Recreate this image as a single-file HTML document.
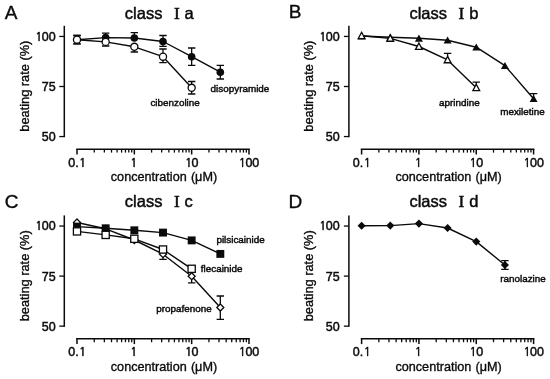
<!DOCTYPE html>
<html><head><meta charset="utf-8"><title>figure</title>
<style>
html,body{margin:0;padding:0;background:#fff;}
svg{display:block;filter:blur(0.3px)}
text{font-family:"Liberation Sans",sans-serif;fill:#0a0a0a;stroke:#0a0a0a;stroke-width:0.35}
.tk{font-size:12.5px;stroke-width:0.45}
.one{font-family:"NanumGothic","Liberation Sans",sans-serif;font-size:11.57px;stroke-width:0.55}
.axx{font-size:12.65px}
.axl{font-size:12.8px}
.ttl{font-size:16.5px;stroke-width:0.45}
.rom{font-family:"Liberation Serif",serif;font-size:17.3px;stroke-width:0.5}
.let{font-size:19px}
.lab{font-size:9.9px;stroke-width:0.45}
.ax{stroke:#0a0a0a;stroke-width:1.5;fill:none;stroke-linecap:butt}
.tkl{stroke:#0a0a0a;stroke-width:1.3;fill:none}
.mn{stroke:#0a0a0a;stroke-width:1.3;fill:none}
.ln{stroke:#0a0a0a;stroke-width:1.4;fill:none;stroke-linejoin:round}
.eb{stroke:#0a0a0a;stroke-width:1.3;fill:none}
.mk{stroke:#0a0a0a;stroke-width:1.3}
</style></head><body>
<svg width="550" height="379" viewBox="0 0 550 379">
<rect width="550" height="379" fill="#fff"/>
<g transform="translate(0,0)">
<path d="M64.3 25.8V137.2" class="ax"/>
<path d="M59.3 36.45H64.3" class="tkl"/>
<text y="40.90" class="tk"><tspan x="35.14" class="one">1</tspan><tspan x="41.70">00</tspan></text>
<path d="M59.3 86.50H64.3" class="tkl"/>
<text y="90.95" class="tk"><tspan x="41.70">75</tspan></text>
<path d="M59.3 136.55H64.3" class="tkl"/>
<text y="141.00" class="tk"><tspan x="41.70">50</tspan></text>
<path d="M76.2 149.15H249.8" class="ax"/>
<path d="M77.00 149.15V154.5" class="ax"/>
<text y="166.80" class="tk"><tspan x="68.21">0.</tspan><tspan x="79.04" class="one">1</tspan></text>
<path d="M94.26 149.15V152.6" class="mn"/>
<path d="M104.35 149.15V152.6" class="mn"/>
<path d="M111.52 149.15V152.6" class="mn"/>
<path d="M117.07 149.15V152.6" class="mn"/>
<path d="M121.61 149.15V152.6" class="mn"/>
<path d="M125.45 149.15V152.6" class="mn"/>
<path d="M128.77 149.15V152.6" class="mn"/>
<path d="M131.71 149.15V152.6" class="mn"/>
<path d="M134.33 149.15V154.5" class="ax"/>
<text y="166.80" class="tk"><tspan x="130.25" class="one">1</tspan></text>
<path d="M151.59 149.15V152.6" class="mn"/>
<path d="M161.68 149.15V152.6" class="mn"/>
<path d="M168.85 149.15V152.6" class="mn"/>
<path d="M174.40 149.15V152.6" class="mn"/>
<path d="M178.94 149.15V152.6" class="mn"/>
<path d="M182.78 149.15V152.6" class="mn"/>
<path d="M186.10 149.15V152.6" class="mn"/>
<path d="M189.04 149.15V152.6" class="mn"/>
<path d="M191.66 149.15V154.5" class="ax"/>
<text y="166.80" class="tk"><tspan x="185.01" class="one">1</tspan><tspan x="191.56">0</tspan></text>
<path d="M208.92 149.15V152.6" class="mn"/>
<path d="M219.01 149.15V152.6" class="mn"/>
<path d="M226.18 149.15V152.6" class="mn"/>
<path d="M231.73 149.15V152.6" class="mn"/>
<path d="M236.27 149.15V152.6" class="mn"/>
<path d="M240.11 149.15V152.6" class="mn"/>
<path d="M243.43 149.15V152.6" class="mn"/>
<path d="M246.37 149.15V152.6" class="mn"/>
<path d="M248.99 149.15V154.5" class="ax"/>
<text y="166.80" class="tk"><tspan x="238.86" class="one">1</tspan><tspan x="245.41">00</tspan></text>
<text y="181.1" class="axx"><tspan x="110.8">concentration </tspan><tspan x="190.9">(μM)</tspan></text>
<text transform="translate(28.7,86.2) rotate(-90)" class="axl" text-anchor="middle">beating rate (%)</text>
<text x="4.7" y="18.9" class="let">A</text>
<text x="124.8" y="18.5" class="ttl">class</text>
<text x="176.8" y="18.5" class="rom" text-anchor="middle">I</text>
<text x="184.6" y="18.5" class="ttl">a</text>
<path d="M77.00 39.70L105.66 37.60L134.33 38.00L163.00 41.50L191.66 56.70L220.32 72.20" class="ln"/>
<path d="M77.00 35.50V43.90M73.30 35.50H80.70M73.30 43.90H80.70" class="eb"/>
<path d="M105.66 33.20V37.60M101.96 33.20H109.36" class="eb"/>
<path d="M134.33 32.60V38.00M130.63 32.60H138.03" class="eb"/>
<path d="M163.00 35.50V46.40M159.30 35.50H166.69M159.30 46.40H166.69" class="eb"/>
<path d="M191.66 48.00V65.40M187.96 48.00H195.36M187.96 65.40H195.36" class="eb"/>
<path d="M220.32 65.40V79.00M216.62 65.40H224.02M216.62 79.00H224.02" class="eb"/>
<circle cx="77.00" cy="39.70" r="3.8" fill="#0a0a0a"/>
<circle cx="105.66" cy="37.60" r="3.8" fill="#0a0a0a"/>
<circle cx="134.33" cy="38.00" r="3.8" fill="#0a0a0a"/>
<circle cx="163.00" cy="41.50" r="3.8" fill="#0a0a0a"/>
<circle cx="191.66" cy="56.70" r="3.8" fill="#0a0a0a"/>
<circle cx="220.32" cy="72.20" r="3.8" fill="#0a0a0a"/>
<path d="M77.00 39.70L105.66 41.90L134.33 46.80L163.00 56.70L191.66 87.80" class="ln"/>
<path d="M77.00 35.50V43.90M73.30 35.50H80.70M73.30 43.90H80.70" class="eb"/>
<path d="M105.66 41.90V46.00M101.96 46.00H109.36" class="eb"/>
<path d="M134.33 46.80V52.00M130.63 52.00H138.03" class="eb"/>
<path d="M163.00 49.00V62.70M159.30 49.00H166.69M159.30 62.70H166.69" class="eb"/>
<path d="M191.66 81.50V94.00M187.96 81.50H195.36M187.96 94.00H195.36" class="eb"/>
<circle cx="77.00" cy="39.70" r="3.55" fill="#fff" class="mk"/>
<circle cx="105.66" cy="41.90" r="3.55" fill="#fff" class="mk"/>
<circle cx="134.33" cy="46.80" r="3.55" fill="#fff" class="mk"/>
<circle cx="163.00" cy="56.70" r="3.55" fill="#fff" class="mk"/>
<circle cx="191.66" cy="87.80" r="3.55" fill="#fff" class="mk"/>
<text x="210.6" y="92.3" class="lab" text-anchor="start">disopyramide</text>
<text x="150.4" y="106.4" class="lab" text-anchor="start">cibenzoline</text>
</g>
<g transform="translate(284.6,0)">
<path d="M64.3 25.8V137.2" class="ax"/>
<path d="M59.3 36.45H64.3" class="tkl"/>
<text y="40.90" class="tk"><tspan x="34.54" class="one">1</tspan><tspan x="41.10">00</tspan></text>
<path d="M59.3 86.50H64.3" class="tkl"/>
<text y="90.95" class="tk"><tspan x="41.10">75</tspan></text>
<path d="M59.3 136.55H64.3" class="tkl"/>
<text y="141.00" class="tk"><tspan x="41.10">50</tspan></text>
<path d="M76.2 149.15H249.8" class="ax"/>
<path d="M77.00 149.15V154.5" class="ax"/>
<text y="166.80" class="tk"><tspan x="68.21">0.</tspan><tspan x="79.04" class="one">1</tspan></text>
<path d="M94.26 149.15V152.6" class="mn"/>
<path d="M104.35 149.15V152.6" class="mn"/>
<path d="M111.52 149.15V152.6" class="mn"/>
<path d="M117.07 149.15V152.6" class="mn"/>
<path d="M121.61 149.15V152.6" class="mn"/>
<path d="M125.45 149.15V152.6" class="mn"/>
<path d="M128.77 149.15V152.6" class="mn"/>
<path d="M131.71 149.15V152.6" class="mn"/>
<path d="M134.33 149.15V154.5" class="ax"/>
<text y="166.80" class="tk"><tspan x="130.25" class="one">1</tspan></text>
<path d="M151.59 149.15V152.6" class="mn"/>
<path d="M161.68 149.15V152.6" class="mn"/>
<path d="M168.85 149.15V152.6" class="mn"/>
<path d="M174.40 149.15V152.6" class="mn"/>
<path d="M178.94 149.15V152.6" class="mn"/>
<path d="M182.78 149.15V152.6" class="mn"/>
<path d="M186.10 149.15V152.6" class="mn"/>
<path d="M189.04 149.15V152.6" class="mn"/>
<path d="M191.66 149.15V154.5" class="ax"/>
<text y="166.80" class="tk"><tspan x="185.01" class="one">1</tspan><tspan x="191.56">0</tspan></text>
<path d="M208.92 149.15V152.6" class="mn"/>
<path d="M219.01 149.15V152.6" class="mn"/>
<path d="M226.18 149.15V152.6" class="mn"/>
<path d="M231.73 149.15V152.6" class="mn"/>
<path d="M236.27 149.15V152.6" class="mn"/>
<path d="M240.11 149.15V152.6" class="mn"/>
<path d="M243.43 149.15V152.6" class="mn"/>
<path d="M246.37 149.15V152.6" class="mn"/>
<path d="M248.99 149.15V154.5" class="ax"/>
<text y="166.80" class="tk"><tspan x="238.86" class="one">1</tspan><tspan x="245.41">00</tspan></text>
<text y="181.1" class="axx"><tspan x="110.8">concentration </tspan><tspan x="190.9">(μM)</tspan></text>
<text transform="translate(28.7,86.2) rotate(-90)" class="axl" text-anchor="middle">beating rate (%)</text>
<text x="4.2" y="18.099999999999998" class="let">B</text>
<text x="124.8" y="18.5" class="ttl">class</text>
<text x="176.8" y="18.5" class="rom" text-anchor="middle">I</text>
<text x="184.6" y="18.5" class="ttl">b</text>
<path d="M77.00 36.00L105.66 37.20L134.33 38.30L163.00 40.20L191.66 47.20L220.32 65.60L248.99 98.70" class="ln"/>






<path d="M248.99 93.60V98.70M245.29 93.60H252.69" class="eb"/>
<path d="M77.00 32.30L81.00 39.40L73.00 39.40Z" fill="#0a0a0a"/>
<path d="M105.66 33.50L109.66 40.60L101.66 40.60Z" fill="#0a0a0a"/>
<path d="M134.33 34.60L138.33 41.70L130.33 41.70Z" fill="#0a0a0a"/>
<path d="M163.00 36.50L167.00 43.60L159.00 43.60Z" fill="#0a0a0a"/>
<path d="M191.66 43.50L195.66 50.60L187.66 50.60Z" fill="#0a0a0a"/>
<path d="M220.32 61.90L224.32 69.00L216.32 69.00Z" fill="#0a0a0a"/>
<path d="M248.99 95.00L252.99 102.10L244.99 102.10Z" fill="#0a0a0a"/>
<path d="M77.00 35.80L105.66 38.40L134.33 46.50L163.00 59.90L191.66 87.80" class="ln"/>



<path d="M163.00 53.40V59.90M159.30 53.40H166.69" class="eb"/>
<path d="M191.66 82.20V87.80M187.96 82.20H195.36" class="eb"/>
<path d="M77.00 32.30L80.40 38.65L73.60 38.65Z" fill="#fff" class="mk"/>
<path d="M105.66 34.90L109.06 41.25L102.26 41.25Z" fill="#fff" class="mk"/>
<path d="M134.33 43.00L137.73 49.35L130.93 49.35Z" fill="#fff" class="mk"/>
<path d="M163.00 56.40L166.40 62.75L159.59 62.75Z" fill="#fff" class="mk"/>
<path d="M191.66 84.30L195.06 90.65L188.26 90.65Z" fill="#fff" class="mk"/>
<text x="154.5" y="106.2" class="lab" text-anchor="start">aprindine</text>
<text x="215.6" y="114.9" class="lab" text-anchor="start">mexiletine</text>
</g>
<g transform="translate(0,189.6)">
<path d="M64.3 25.8V137.2" class="ax"/>
<path d="M59.3 36.45H64.3" class="tkl"/>
<text y="40.90" class="tk"><tspan x="35.14" class="one">1</tspan><tspan x="41.70">00</tspan></text>
<path d="M59.3 86.50H64.3" class="tkl"/>
<text y="90.95" class="tk"><tspan x="41.70">75</tspan></text>
<path d="M59.3 136.55H64.3" class="tkl"/>
<text y="141.00" class="tk"><tspan x="41.70">50</tspan></text>
<path d="M76.2 149.15H249.8" class="ax"/>
<path d="M77.00 149.15V154.5" class="ax"/>
<text y="166.80" class="tk"><tspan x="68.21">0.</tspan><tspan x="79.04" class="one">1</tspan></text>
<path d="M94.26 149.15V152.6" class="mn"/>
<path d="M104.35 149.15V152.6" class="mn"/>
<path d="M111.52 149.15V152.6" class="mn"/>
<path d="M117.07 149.15V152.6" class="mn"/>
<path d="M121.61 149.15V152.6" class="mn"/>
<path d="M125.45 149.15V152.6" class="mn"/>
<path d="M128.77 149.15V152.6" class="mn"/>
<path d="M131.71 149.15V152.6" class="mn"/>
<path d="M134.33 149.15V154.5" class="ax"/>
<text y="166.80" class="tk"><tspan x="130.25" class="one">1</tspan></text>
<path d="M151.59 149.15V152.6" class="mn"/>
<path d="M161.68 149.15V152.6" class="mn"/>
<path d="M168.85 149.15V152.6" class="mn"/>
<path d="M174.40 149.15V152.6" class="mn"/>
<path d="M178.94 149.15V152.6" class="mn"/>
<path d="M182.78 149.15V152.6" class="mn"/>
<path d="M186.10 149.15V152.6" class="mn"/>
<path d="M189.04 149.15V152.6" class="mn"/>
<path d="M191.66 149.15V154.5" class="ax"/>
<text y="166.80" class="tk"><tspan x="185.01" class="one">1</tspan><tspan x="191.56">0</tspan></text>
<path d="M208.92 149.15V152.6" class="mn"/>
<path d="M219.01 149.15V152.6" class="mn"/>
<path d="M226.18 149.15V152.6" class="mn"/>
<path d="M231.73 149.15V152.6" class="mn"/>
<path d="M236.27 149.15V152.6" class="mn"/>
<path d="M240.11 149.15V152.6" class="mn"/>
<path d="M243.43 149.15V152.6" class="mn"/>
<path d="M246.37 149.15V152.6" class="mn"/>
<path d="M248.99 149.15V154.5" class="ax"/>
<text y="166.80" class="tk"><tspan x="238.86" class="one">1</tspan><tspan x="245.41">00</tspan></text>
<text y="181.1" class="axx"><tspan x="110.8">concentration </tspan><tspan x="190.9">(μM)</tspan></text>
<text transform="translate(28.7,86.2) rotate(-90)" class="axl" text-anchor="middle">beating rate (%)</text>
<text x="4.7" y="18.5" class="let">C</text>
<text x="124.8" y="17.8" class="ttl">class</text>
<text x="176.8" y="17.8" class="rom" text-anchor="middle">I</text>
<text x="184.6" y="17.8" class="ttl">c</text>
<path d="M77.00 32.90L105.66 39.20L134.33 50.40L163.00 64.60L191.66 86.60L220.32 117.90" class="ln"/>



<path d="M163.00 64.60V69.80M159.30 69.80H166.69" class="eb"/>
<path d="M191.66 86.60V93.30M187.96 93.30H195.36" class="eb"/>
<path d="M220.32 106.40V129.70M216.62 106.40H224.02M216.62 129.70H224.02" class="eb"/>
<path d="M77.00 29.40L80.50 32.90L77.00 36.40L73.50 32.90Z" fill="#fff" class="mk"/>
<path d="M105.66 35.70L109.16 39.20L105.66 42.70L102.16 39.20Z" fill="#fff" class="mk"/>
<path d="M134.33 46.90L137.83 50.40L134.33 53.90L130.83 50.40Z" fill="#fff" class="mk"/>
<path d="M163.00 61.10L166.50 64.60L163.00 68.10L159.50 64.60Z" fill="#fff" class="mk"/>
<path d="M191.66 83.10L195.16 86.60L191.66 90.10L188.16 86.60Z" fill="#fff" class="mk"/>
<path d="M220.32 114.40L223.82 117.90L220.32 121.40L216.82 117.90Z" fill="#fff" class="mk"/>
<path d="M77.00 37.00L105.66 38.70L134.33 40.70L163.00 43.00L191.66 50.80L220.32 64.30" class="ln"/>






<rect x="73.05" y="33.05" width="7.9" height="7.9" fill="#0a0a0a"/>
<rect x="101.71" y="34.75" width="7.9" height="7.9" fill="#0a0a0a"/>
<rect x="130.38" y="36.75" width="7.9" height="7.9" fill="#0a0a0a"/>
<rect x="159.05" y="39.05" width="7.9" height="7.9" fill="#0a0a0a"/>
<rect x="187.71" y="46.85" width="7.9" height="7.9" fill="#0a0a0a"/>
<rect x="216.38" y="60.35" width="7.9" height="7.9" fill="#0a0a0a"/>
<path d="M77.00 41.80L105.66 45.30L134.33 49.20L163.00 59.90L191.66 79.20" class="ln"/>





<rect x="73.40" y="38.20" width="7.2" height="7.2" fill="#fff" class="mk"/>
<rect x="102.06" y="41.70" width="7.2" height="7.2" fill="#fff" class="mk"/>
<rect x="130.73" y="45.60" width="7.2" height="7.2" fill="#fff" class="mk"/>
<rect x="159.40" y="56.30" width="7.2" height="7.2" fill="#fff" class="mk"/>
<rect x="188.06" y="75.60" width="7.2" height="7.2" fill="#fff" class="mk"/>
<text x="216.4" y="53.8" class="lab" text-anchor="start">pilsicainide</text>
<text x="200.8" y="82.9" class="lab" text-anchor="start">flecainide</text>
<text x="156.2" y="122.3" class="lab" text-anchor="start">propafenone</text>
</g>
<g transform="translate(284.6,189.6)">
<path d="M64.3 25.8V137.2" class="ax"/>
<path d="M59.3 36.45H64.3" class="tkl"/>
<text y="40.90" class="tk"><tspan x="34.54" class="one">1</tspan><tspan x="41.10">00</tspan></text>
<path d="M59.3 86.50H64.3" class="tkl"/>
<text y="90.95" class="tk"><tspan x="41.10">75</tspan></text>
<path d="M59.3 136.55H64.3" class="tkl"/>
<text y="141.00" class="tk"><tspan x="41.10">50</tspan></text>
<path d="M76.2 149.15H249.8" class="ax"/>
<path d="M77.00 149.15V154.5" class="ax"/>
<text y="166.80" class="tk"><tspan x="68.21">0.</tspan><tspan x="79.04" class="one">1</tspan></text>
<path d="M94.26 149.15V152.6" class="mn"/>
<path d="M104.35 149.15V152.6" class="mn"/>
<path d="M111.52 149.15V152.6" class="mn"/>
<path d="M117.07 149.15V152.6" class="mn"/>
<path d="M121.61 149.15V152.6" class="mn"/>
<path d="M125.45 149.15V152.6" class="mn"/>
<path d="M128.77 149.15V152.6" class="mn"/>
<path d="M131.71 149.15V152.6" class="mn"/>
<path d="M134.33 149.15V154.5" class="ax"/>
<text y="166.80" class="tk"><tspan x="130.25" class="one">1</tspan></text>
<path d="M151.59 149.15V152.6" class="mn"/>
<path d="M161.68 149.15V152.6" class="mn"/>
<path d="M168.85 149.15V152.6" class="mn"/>
<path d="M174.40 149.15V152.6" class="mn"/>
<path d="M178.94 149.15V152.6" class="mn"/>
<path d="M182.78 149.15V152.6" class="mn"/>
<path d="M186.10 149.15V152.6" class="mn"/>
<path d="M189.04 149.15V152.6" class="mn"/>
<path d="M191.66 149.15V154.5" class="ax"/>
<text y="166.80" class="tk"><tspan x="185.01" class="one">1</tspan><tspan x="191.56">0</tspan></text>
<path d="M208.92 149.15V152.6" class="mn"/>
<path d="M219.01 149.15V152.6" class="mn"/>
<path d="M226.18 149.15V152.6" class="mn"/>
<path d="M231.73 149.15V152.6" class="mn"/>
<path d="M236.27 149.15V152.6" class="mn"/>
<path d="M240.11 149.15V152.6" class="mn"/>
<path d="M243.43 149.15V152.6" class="mn"/>
<path d="M246.37 149.15V152.6" class="mn"/>
<path d="M248.99 149.15V154.5" class="ax"/>
<text y="166.80" class="tk"><tspan x="238.86" class="one">1</tspan><tspan x="245.41">00</tspan></text>
<text y="181.1" class="axx"><tspan x="110.8">concentration </tspan><tspan x="190.9">(μM)</tspan></text>
<text transform="translate(28.7,86.2) rotate(-90)" class="axl" text-anchor="middle">beating rate (%)</text>
<text x="3.9000000000000004" y="18.599999999999998" class="let">D</text>
<text x="124.8" y="17.8" class="ttl">class</text>
<text x="176.8" y="17.8" class="rom" text-anchor="middle">I</text>
<text x="184.6" y="17.8" class="ttl">d</text>
<path d="M77.00 36.20L105.66 36.00L134.33 34.00L163.00 38.40L191.66 52.00L220.32 75.40" class="ln"/>





<path d="M220.32 71.00V79.70M216.62 71.00H224.02M216.62 79.70H224.02" class="eb"/>
<path d="M77.00 32.15L81.05 36.20L77.00 40.25L72.95 36.20Z" fill="#0a0a0a"/>
<path d="M105.66 31.95L109.71 36.00L105.66 40.05L101.61 36.00Z" fill="#0a0a0a"/>
<path d="M134.33 29.95L138.38 34.00L134.33 38.05L130.28 34.00Z" fill="#0a0a0a"/>
<path d="M163.00 34.35L167.05 38.40L163.00 42.45L158.94 38.40Z" fill="#0a0a0a"/>
<path d="M191.66 47.95L195.71 52.00L191.66 56.05L187.61 52.00Z" fill="#0a0a0a"/>
<path d="M220.32 71.35L224.38 75.40L220.32 79.45L216.27 75.40Z" fill="#0a0a0a"/>
<text x="215.6" y="92.0" class="lab" text-anchor="start">ranolazine</text>
</g>
</svg>
</body></html>
